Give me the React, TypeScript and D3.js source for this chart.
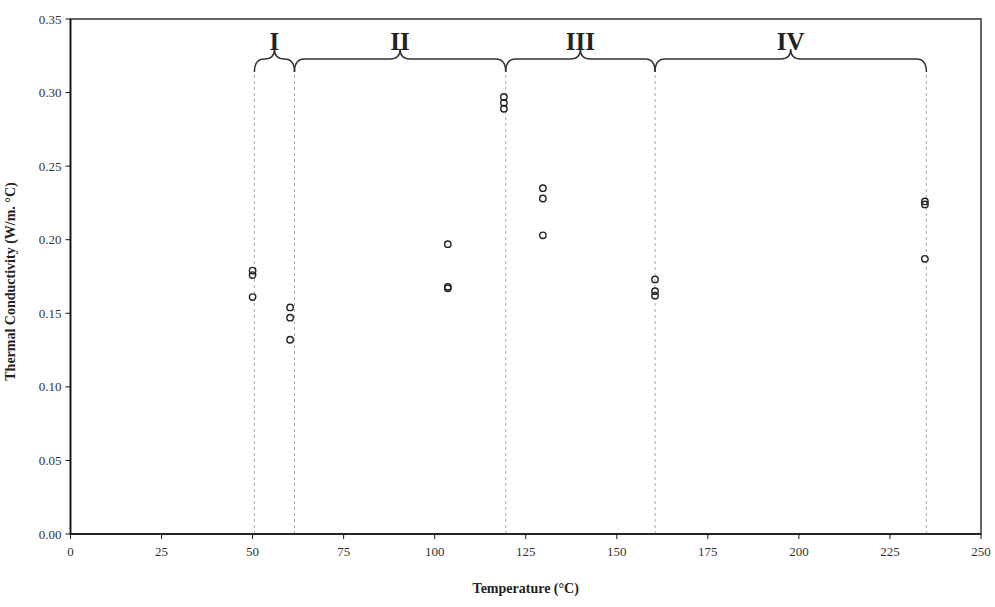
import React from 'react';
import * as d3 from 'd3';

// measured temperatures (°C) and thermal conductivity (W/m.°C)
const temps = [50, 50, 50, 60.3, 60.3, 60.3, 103.6, 103.6, 103.6, 119, 119, 119, 129.7, 129.7, 129.7, 160.5, 160.5, 160.5, 234.6, 234.6, 234.6];
const conductivity = [0.179, 0.176, 0.161, 0.154, 0.147, 0.132, 0.197, 0.168, 0.167, 0.297, 0.293, 0.289, 0.235, 0.228, 0.203, 0.173, 0.165, 0.162, 0.226, 0.224, 0.187];

// region limits and names
const bounds = [50.5, 61.5, 119.5, 160.5, 235];
const regions = ['I', 'II', 'III', 'IV'];

const xTicks = [0, 25, 50, 75, 100, 125, 150, 175, 200, 225, 250];
const yTicks = [0, 0.05, 0.1, 0.15, 0.2, 0.25, 0.3, 0.35];

const width = 995;
const height = 607;
const left = 70.5;
const right = 981;
const top = 19;
const bottom = 534;

const font = '"Liberation Serif", "Times New Roman", serif';

const App: React.FC = () => {
  const x = d3.scaleLinear().domain([0, 250]).range([left, right]);
  const y = d3.scaleLinear().domain([0, 0.35]).range([bottom, top]);

  const braceTop = 59;
  const braceTip = 72;
  const cusp = 49;

  const brace = (a: number, b: number) => {
    const x1 = x(a);
    const x2 = x(b);
    const m = (x1 + x2) / 2;
    const r = Math.min(10, (x2 - x1) / 4);
    const p = d3.path();
    p.moveTo(x1, braceTip);
    p.quadraticCurveTo(x1, braceTop, x1 + r, braceTop);
    p.lineTo(m - r, braceTop);
    p.quadraticCurveTo(m, braceTop, m, cusp);
    p.quadraticCurveTo(m, braceTop, m + r, braceTop);
    p.lineTo(x2 - r, braceTop);
    p.quadraticCurveTo(x2, braceTop, x2, braceTip);
    return p.toString();
  };

  return (
    <svg width={width} height={height} style={{ position: 'absolute', left: 0, top: 0, background: '#fff' }}>
      {/* plot frame */}
      <rect x={left} y={top} width={right - left} height={bottom - top} fill="#fff" stroke="#555" strokeWidth={1.8} />

      {/* region separators */}
      {bounds.map((b, i) => (
        <line key={'d' + i} x1={x(b)} x2={x(b)} y1={bottom} y2={braceTip} stroke="#aaa" strokeWidth={1} strokeDasharray="3,3" />
      ))}

      {/* braces and labels */}
      {regions.map((name, i) => {
        const m = (x(bounds[i]) + x(bounds[i + 1])) / 2;
        return (
          <g key={name}>
            <path d={brace(bounds[i], bounds[i + 1])} fill="none" stroke="#333" strokeWidth={1.5} />
            <text x={m} y={cusp + 1} textAnchor="middle" fontFamily={font} fontSize={25} fontWeight="bold" fill="#222">{name}</text>
          </g>
        );
      })}

      {/* axes */}
      <line x1={left} x2={left} y1={top} y2={bottom} stroke="#111" strokeWidth={1.5} />
      <line x1={left} x2={right} y1={bottom} y2={bottom} stroke="#111" strokeWidth={1.5} />

      {yTicks.map(t => (
        <g key={'y' + t}>
          <line x1={left - 5} x2={left} y1={y(t)} y2={y(t)} stroke="#111" />
          <text x={left - 9} y={y(t)} dy="0.35em" textAnchor="end" fontFamily={font} fontSize={13} fill="#333">{d3.format('.2f')(t)}</text>
        </g>
      ))}
      {xTicks.map(t => (
        <g key={'x' + t}>
          <line x1={x(t)} x2={x(t)} y1={bottom} y2={bottom + 5} stroke="#111" />
          <text x={x(t)} y={bottom + 22} textAnchor="middle" fontFamily={font} fontSize={13} fill="#333">{t}</text>
        </g>
      ))}

      {/* titles */}
      <text x={(left + right) / 2} y={593} textAnchor="middle" fontFamily={font} fontSize={14} fontWeight="bold" fill="#222">Temperature (°C)</text>
      <text transform={`translate(15,${(top + bottom) / 2 + 5}) rotate(-90)`} textAnchor="middle" fontFamily={font} fontSize={14} fontWeight="bold" fill="#222">Thermal Conductivity   (W/m. °C)</text>

      {/* data points */}
      {temps.map((t, i) => (
        <circle key={'p' + i} cx={x(t)} cy={y(conductivity[i])} r={3.2} fill="none" stroke="#222" strokeWidth={1.4} />
      ))}
    </svg>
  );
};

export default App;
